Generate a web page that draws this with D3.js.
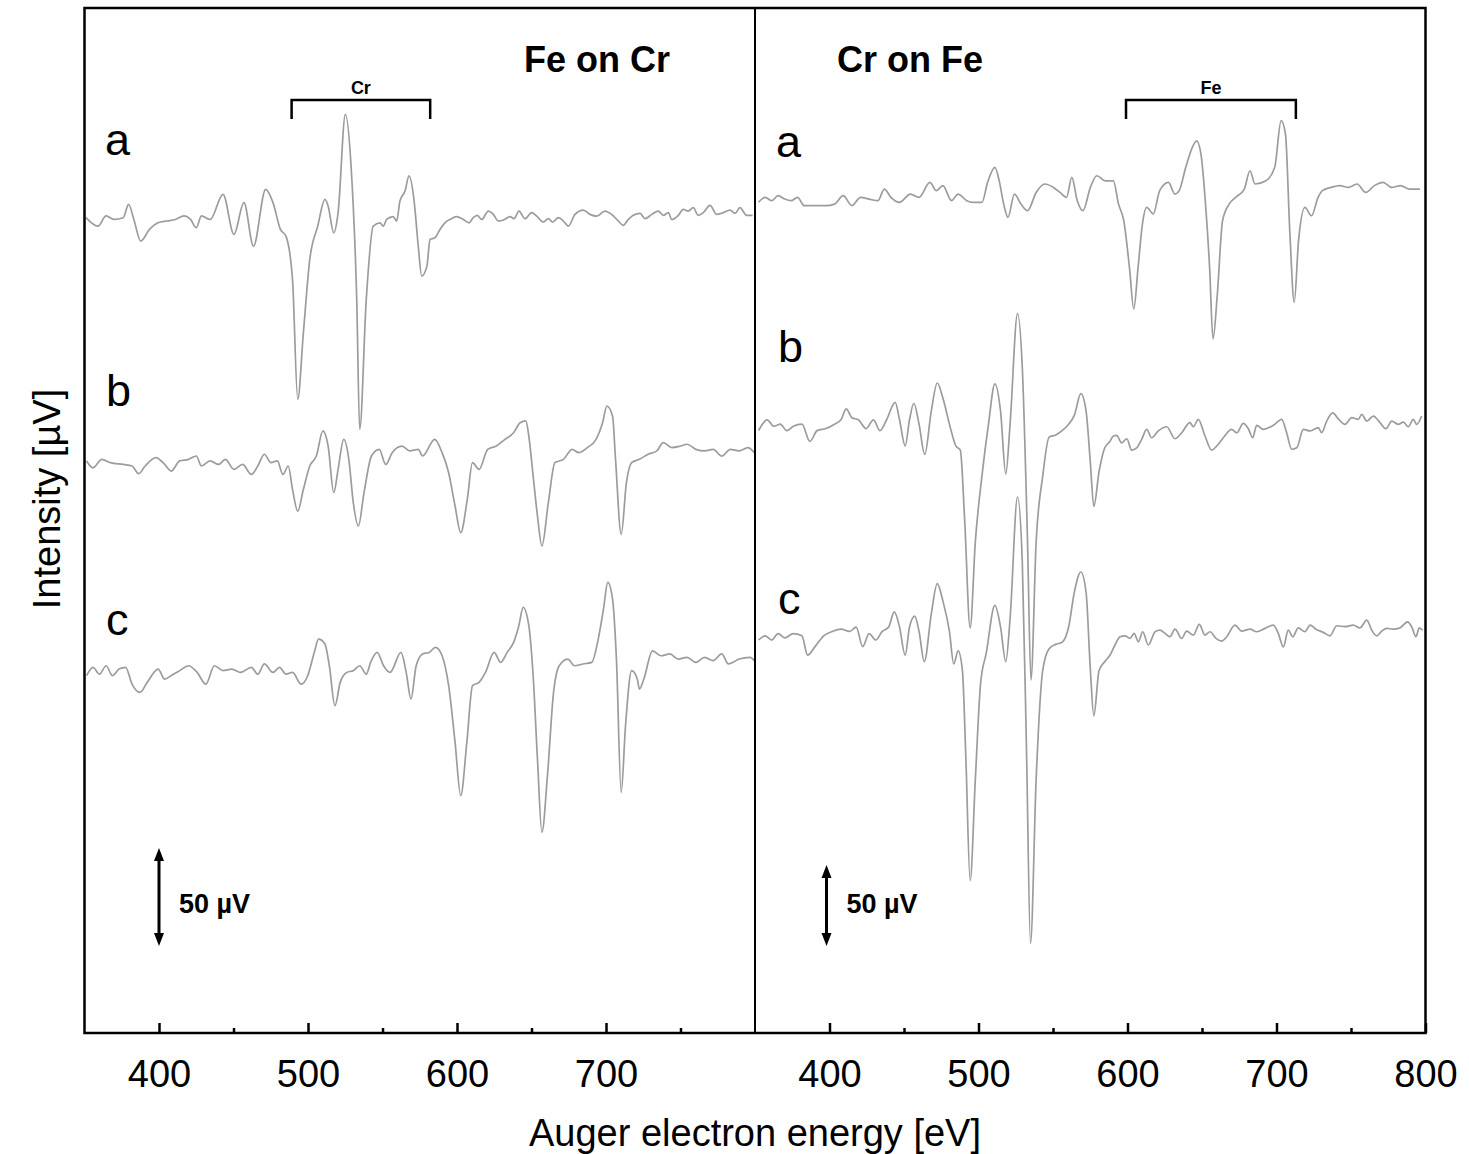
<!DOCTYPE html>
<html>
<head>
<meta charset="utf-8">
<script src="https://cdn.jsdelivr.net/npm/d3@7"></script>
<style>
body { margin: 0; background: #fff; }
text { font-family: Arial, "Liberation Sans", Helvetica, sans-serif; fill: #000; }
</style>
</head>
<body>
<svg id="chart" width="1469" height="1154"></svg>
<script>
// spectra: [energy eV, dN/dE in µV relative to the curve's own baseline]
var feOnCrA = [[351,0],[359,-4.3],[364.5,0.9],[370,-0.9],[376,0],[379.6,6.8],[383.4,-1.7],[387.7,-11.9],[393.6,-6],[399.4,-2.6],[405.2,-1.7],[411,-0.9],[416.8,0.9],[421.2,-0.9],[425,-5.1],[428.5,0.9],[434.3,-0.9],[443,11.9],[450.3,-8.5],[457,7.7],[463.4,-14.5],[471.6,14.5],[476.5,7.7],[481.5,-6],[485.2,-9.4],[489.6,-31.5],[493.1,-92.7],[496.9,-58.7],[501.2,-21.3],[506.5,-4.3],[511.4,9.4],[513.5,6],[517.3,-7.7],[520.2,2.6],[525.1,52.7],[528.9,26.4],[532.7,-41.7],[534.7,-108],[539.1,-41.7],[543.8,-4.3],[548.3,-2.6],[550.5,-4.3],[552.8,-0.9],[557.2,0.5],[559.5,-1.7],[561.7,8.5],[565.1,13.6],[567.8,21.3],[571.1,9.4],[574,-14.5],[576.3,-29.8],[579.8,-24.7],[581.9,-11.1],[585.2,-10.2],[588.6,-6],[591.9,-2.6],[596.4,-0.5],[599.8,0.5],[604.2,-0.9],[608.1,-2.6],[610.9,0],[613.6,1.2],[616.6,-0.9],[621,3.4],[624.4,1.7],[627.7,-1.7],[631.1,-1.2],[635.6,0.5],[638.3,-0.5],[641.6,3.4],[645.6,-0.5],[650.1,2.6],[653.5,0.8],[657.9,-2.2],[661.3,-0.5],[664.2,-2.2],[668,0],[672.5,-2.6],[674.7,-4.3],[679.2,1.7],[684.8,3.9],[689.3,1.7],[693.8,0.8],[699.3,3.4],[703.8,1.7],[708.3,-1.7],[711.6,-3.9],[715,-0.9],[718.3,1.2],[722.8,2.2],[726.2,-0.5],[730.7,1.7],[735.1,3.4],[738.5,1.2],[741.8,2.6],[744.1,-0.9],[748.5,1.2],[751.9,4.2],[755.2,3.4],[758.6,5.1],[761.9,1.2],[765.3,2.6],[769.8,6.3],[774.3,1.7],[778.7,2.6],[783.2,3.9],[786.6,2.2],[789.9,5.1],[794.4,1.2],[798.4,1.2]];

var feOnCrB = [[351.4,0.9],[355.7,-2.6],[361.6,1.7],[367.4,0],[376.1,-0.9],[381.9,-1.7],[386.3,-5.6],[390.7,-1.7],[397.9,2.6],[403.8,-0.9],[408.1,-4.3],[413.9,0.9],[419.8,1.7],[425,3.4],[428.5,-1.7],[434.3,0.9],[440.1,-0.9],[444.5,1.7],[450.3,-3.4],[456.1,-0.9],[462,-6],[466.3,-1.7],[470.7,4.3],[475.1,0],[479.4,0.9],[483.2,-6],[486.7,-1.7],[489.6,-13.6],[493.1,-24.7],[496.9,-13.6],[501.2,-1.7],[505.6,3.4],[510,16.2],[513.5,8.5],[517.3,-15.3],[520.2,-3.4],[524,11.9],[527.4,1.7],[530.4,-20.4],[533.8,-32.3],[537.6,-15.3],[542.6,3.4],[547.8,6.8],[552.2,-0.9],[556.5,5.1],[563,8.5],[568.2,6],[574,6.8],[576.9,3.4],[585,11.9],[590,5.1],[594.4,-5.1],[598.7,-22.1],[602.5,-35.7],[606.9,-18.7],[610.4,0],[614.8,-3.4],[620.6,6.8],[626.4,8.5],[632.2,11.9],[638,15.3],[642.4,20.4],[646.2,21.3],[648.2,13.6],[651.1,-6.8],[654,-27.2],[657,-42.5],[661.3,-20.4],[665.7,0],[671.5,1.7],[677.3,6.8],[681.7,5.1],[687.5,7.7],[693.3,11.9],[697.7,20.4],[700.6,28.9],[704.4,23.8],[706.4,1.7],[710.2,-36.6],[713.7,-10.2],[717.2,0],[722.4,1.7],[728.3,4.3],[734.1,6],[738.4,10.2],[744.3,7.7],[750.1,8.5],[754.4,9.4],[760.3,6.8],[766.1,6],[771.9,6.8],[777.7,3.4],[783.5,6.8],[789.4,6],[795.2,7.7],[799.6,5.1]];

var feOnCrC = [[351.4,-1.7],[355.7,2.6],[360.1,-0.9],[364.5,3.4],[368.8,-1.7],[373.2,1.7],[377.6,2.6],[381.9,-6],[387.2,-10.2],[392.1,-5.1],[399.4,1.7],[403.8,-3.4],[409.6,-0.9],[413.9,0.9],[419.8,3.4],[425.6,0],[431.4,-6],[437.2,3.4],[443,0.9],[448.9,1.7],[454.7,0],[462,2.6],[466.3,-0.9],[470.7,4.3],[476.5,0],[480.9,2.6],[485.2,-0.9],[489.6,0],[495.4,-6],[499.8,-1.7],[504.2,10.2],[507.1,17],[511.4,14.5],[514.3,3.4],[518.1,-17],[521.6,-5.1],[526,0],[530.4,0.9],[534.7,3.4],[539.1,-0.9],[542,5.1],[546.4,10.2],[550.7,3.4],[555.1,0],[562.4,10.2],[565.9,0],[569.1,-13.6],[572.6,3.4],[576.9,9.4],[581.3,10.2],[585.6,12.8],[590,8.5],[594.4,-6.8],[598.7,-35.7],[602.5,-62.9],[606.6,-35.7],[610.4,-6.8],[614.8,-5.1],[619.1,0],[624.9,10.2],[629.3,5.1],[633.7,10.2],[638,15.3],[641.5,23.8],[644.4,33.2],[648.2,23.8],[651.1,-1.7],[654,-44.2],[657,-81.6],[660.7,-52.7],[664.8,-10.2],[668.6,3.4],[674.4,6.8],[678.8,3.4],[684.6,4.3],[690.4,5.1],[694.8,17],[698.3,32.3],[701.2,45.9],[704.4,37.4],[707,6.8],[710.2,-61.2],[713.1,-27.2],[717.2,0.9],[721,-3.4],[722.4,-8.5],[725.4,-3.4],[731.2,11],[737,8.5],[742.8,9.4],[748.6,6.8],[754.4,7.7],[760.3,5.1],[766.1,7.7],[771.9,6],[777.7,9.4],[782.1,4.3],[789.4,6.8],[796.7,7.7],[799.6,6]];

var crOnFeA = [[352.4,-1],[356.8,2.1],[361.2,0],[365.5,3.1],[369.9,1],[374.2,0],[378.6,2.1],[383,-3.1],[390.3,-3.1],[397.5,-3.1],[403.4,-2.1],[409.2,3.1],[415,-3.1],[420.8,2.1],[426.6,1],[432.5,0],[436.8,7.2],[441.2,2.1],[447,-1],[454.3,4.1],[460.1,2.1],[467.4,11.3],[471.7,6.2],[476.1,9.3],[481.9,0],[486.3,4.1],[492.1,0],[496.5,-1],[502.3,-1],[506.1,11.3],[511,20.6],[513.9,12.3],[516.9,-2.1],[519.8,-10.3],[524.1,4.1],[528.5,-2.1],[532.9,-6.2],[538.7,5.1],[544.5,10.3],[550.3,8.2],[554.7,5.1],[559.1,2.1],[562.6,14.4],[566.3,0],[570.1,-6.2],[575.1,8.2],[579.4,15.4],[585.2,12.3],[590.5,12.3],[594,-2.1],[597.5,-12.3],[601.3,-41.2],[604.2,-66.9],[607.1,-41.2],[610,-14.4],[612.9,-4.1],[617.3,-8.2],[621.6,6.2],[627.5,11.3],[631.8,4.1],[634.7,6.2],[639.1,20.6],[643.5,32.9],[646.4,37],[649.3,28.8],[652.2,0],[655.1,-41.2],[657.4,-85.4],[660.3,-57.6],[663.8,-12.3],[668.2,-2.1],[672.6,2.1],[678.4,7.2],[682.2,18.5],[685.6,10.3],[692.9,12.3],[698.8,20.6],[703.1,49.4],[706,41.2],[709,-20.6],[711.9,-62.8],[714.8,-24.7],[719.1,-4.1],[723.5,-9.3],[727.9,2.1],[730.8,6.2],[736.6,8.2],[742.4,9.3],[748.2,8.2],[754.1,10.3],[759.9,5.1],[765.7,9.3],[771.5,11.3],[777.3,8.2],[783.2,9.3],[789,7.2],[796.3,7.2]];

var crOnFeB = [[352.4,0],[358.2,6.7],[362.6,2.7],[367,4],[371.3,0],[375.7,2.7],[381.5,4],[386.8,-6.7],[391.7,0],[397.5,1.3],[403.4,4],[407.7,6.7],[411.2,13.4],[415,8],[419.4,6.7],[424.6,1.3],[429.5,6.7],[433.9,0],[438.3,6.7],[444.1,17.4],[447,6.7],[450.8,-9.4],[453.7,6.7],[456.6,16.9],[460.1,4],[463.9,-14.7],[468.3,12],[472.3,29.4],[476.1,20.1],[480.5,4],[484.8,-9.4],[487.8,-12],[490.7,-54.9],[494.4,-121.8],[497.9,-68.3],[502.3,-28.1],[506.7,4],[511,28.9],[514.8,12],[518.3,-26.8],[521.2,4],[526.2,72.3],[529.4,38.8],[532.9,-68.3],[535.2,-153.9],[538.7,-68.3],[543.1,-28.1],[547.4,-4],[551.8,-2.7],[556.1,0],[560.5,4],[564.3,9.4],[568.7,22.8],[572.2,12],[575.1,-20.1],[577.4,-46.8],[580.9,-25.4],[584.7,-10.7],[588.2,-6.7],[590.5,-3.3],[592.7,-2.9],[596.1,-7.5],[599.5,-5],[602.8,-12],[606.2,-10.6],[609.5,-5.4],[612.9,0.8],[616.2,-4.4],[620.7,-0.2],[626.3,2.4],[631.9,-5],[636.4,-1.3],[641.9,4.9],[644.2,2.4],[647.5,7],[652,-3.3],[656.5,-12],[659.9,-9.5],[664.3,-4.4],[669.9,0.8],[673.3,-1.3],[677.7,4.5],[681.1,1.2],[684,-4.4],[686.7,3.3],[691.1,0.8],[697.9,3.3],[703.5,7],[706.8,-1.3],[710.2,-11.5],[713.6,-10.6],[718,0.8],[722.5,-0.2],[728.1,1.8],[730.3,-1.3],[733.7,5.9],[737.7,11],[741.5,7.3],[746,3.9],[750.5,8],[754.9,7],[757.2,10],[760.6,5.9],[765,9],[769.5,4.9],[773.5,1.2],[777.3,5.9],[781.7,3.9],[785.1,5.3],[788.5,2.4],[791.8,7],[794.1,3.9],[797.4,9]];

var crOnFeC = [[352.4,-1.3],[356.8,1.3],[361.2,-1.3],[365.5,2.7],[369.9,0],[375.7,2.7],[381.5,1.3],[385.3,-10.7],[390.3,-5.4],[396.1,1.3],[401.9,4],[407.7,5.4],[413.5,4],[417.9,6.7],[422.3,-5.4],[426.6,2.7],[431,-1.3],[435.4,4],[439.7,6.7],[443.5,16.1],[447,6.7],[450.8,-10.7],[453.7,6.7],[457.2,13.4],[460.1,4],[463.6,-14.7],[468.3,14.7],[472.3,33.5],[476.1,22.8],[480.5,4],[483.4,-16.1],[486.3,-8],[489.2,-20.1],[491.5,-73.6],[494.4,-149.9],[497.9,-87],[501.4,-28.1],[505.2,-9.4],[511,20.1],[514.8,6.7],[518.3,-14.7],[521.2,12],[526.2,87],[529.4,46.8],[532.3,-73.6],[534.9,-188.7],[538.7,-87],[543.1,-20.1],[547.4,-6.7],[551.8,-4],[556.1,-2.7],[560.5,6.7],[564.3,28.1],[568.7,40.7],[572.2,28.1],[575.1,-20.1],[577.4,-48.2],[580.9,-20.1],[584.7,-14.7],[588.3,-10.6],[591.6,-4.4],[595,0.7],[598.3,1.3],[601.7,-0.3],[604.4,2.8],[607.3,-2.4],[610.2,3.8],[614,-4.4],[618.5,3.8],[621.8,4.8],[625.2,2.8],[628.5,0.7],[631.9,5.4],[636.4,-0.3],[639.7,4.2],[644.2,1.7],[648.2,8.3],[652,1.7],[655.4,3.8],[659.4,-0.3],[663.2,-2],[666.6,0.7],[672.1,7.9],[676.6,4.2],[682.2,5.4],[686.7,3.8],[692.3,5.9],[697.9,7.9],[701.2,2.8],[704.6,-5.5],[707.9,4.8],[710.9,0.7],[714.6,6.2],[719.1,3.8],[722.5,7.9],[726.5,5.4],[731.4,3.4],[735.9,1.3],[740.4,7.5],[746,6.9],[751.5,7.9],[756,6.2],[760.6,11],[763.9,4.8],[767.3,1.3],[770.6,4.2],[774,5.9],[778.4,5.4],[782.9,6.2],[788,9.9],[790.7,6.9],[793.6,0.7],[795.8,6.2],[798.1,4.8]];

// vertical offsets of the stacked curves (µV)
var feOnCrOffsets = [416, 291, 184];
var crOnFeOffsets = [514, 372, 244];
var curveLabels = ["a", "b", "c"];

var xTicksLeft = [400, 500, 600, 700];
var xTicksRight = [400, 500, 600, 700, 800];
var xMinorTicks = [450, 550, 650, 750];

var crBracket = [489, 582];   // Cr LMM region
var feBracket = [599, 713];   // Fe LMM region
var scaleBarUV = 50;

var svg = d3.select("#chart");
svg.append("rect").attr("width", 1469).attr("height", 1154).attr("fill", "#fff");

var top_ = 8, bottom = 1033;

var panels = [
  { x0: 84.5, x1: 755, yMax: 523, curves: [feOnCrA, feOnCrB, feOnCrC], offsets: feOnCrOffsets,
    ticks: xTicksLeft, title: "Fe on Cr", titleX: 524, bracket: crBracket, bracketName: "Cr",
    labelPos: [[105, 155], [106, 406], [106, 635]], barE: 400, barBase: 44.4 },
  { x0: 755, x1: 1425.5, yMax: 633, curves: [crOnFeA, crOnFeB, crOnFeC], offsets: crOnFeOffsets,
    ticks: xTicksRight, title: "Cr on Fe", titleX: 837, bracket: feBracket, bracketName: "Fe",
    labelPos: [[776, 157], [778, 362], [778, 614]], barE: 398, barBase: 53.7 }
];

panels.forEach(function(p) {
  var x = d3.scaleLinear().domain([350, 800]).range([p.x0, p.x1]);
  var y = d3.scaleLinear().domain([0, p.yMax]).range([bottom, top_]);

  var line = d3.line()
    .x(function(d) { return x(d[0]); })
    .curve(d3.curveMonotoneX);

  p.curves.forEach(function(c, i) {
    line.y(function(d) { return y(p.offsets[i] + d[1]); });
    svg.append("path")
      .datum(c)
      .attr("d", line)
      .attr("fill", "none")
      .attr("stroke", "#9c9c9c")
      .attr("stroke-width", 1.7)
      .attr("stroke-linejoin", "round");

    svg.append("text")
      .attr("x", p.labelPos[i][0]).attr("y", p.labelPos[i][1])
      .attr("font-size", 45)
      .text(curveLabels[i]);
  });

  // major and minor ticks, pointing inward
  var ax = svg.append("g")
    .attr("transform", "translate(0," + bottom + ")")
    .call(d3.axisBottom(x).tickValues(p.ticks).tickSize(-10).tickPadding(27).tickFormat(d3.format("d")));
  ax.select(".domain").remove();
  ax.selectAll("line").attr("stroke", "#000").attr("stroke-width", 2.5);
  ax.selectAll("text").attr("font-size", 38).attr("font-family", "Arial, 'Liberation Sans', sans-serif").attr("fill", "#000");

  var mx = svg.append("g")
    .attr("transform", "translate(0," + bottom + ")")
    .call(d3.axisBottom(x).tickValues(xMinorTicks).tickSize(-5).tickFormat(""));
  mx.select(".domain").remove();
  mx.selectAll("line").attr("stroke", "#000").attr("stroke-width", 2.5);

  // panel title
  svg.append("text")
    .attr("x", p.titleX).attr("y", 72)
    .attr("font-size", 36).attr("font-weight", "bold")
    .text(p.title);

  // element bracket
  var bx0 = x(p.bracket[0]), bx1 = x(p.bracket[1]);
  svg.append("path")
    .attr("d", "M" + bx0 + ",119V100H" + bx1 + "V119")
    .attr("fill", "none").attr("stroke", "#000").attr("stroke-width", 2.5);
  svg.append("text")
    .attr("x", (bx0 + bx1) / 2).attr("y", 94)
    .attr("text-anchor", "middle")
    .attr("font-size", 18).attr("font-weight", "bold")
    .text(p.bracketName);

  // 50 µV scale bar
  var bx = x(p.barE), yb = y(p.barBase), yt = y(p.barBase + scaleBarUV);
  svg.append("line")
    .attr("x1", bx).attr("x2", bx).attr("y1", yt + 6).attr("y2", yb - 6)
    .attr("stroke", "#000").attr("stroke-width", 3);
  svg.append("path")
    .attr("d", "M" + bx + "," + yt + "l-5,13h10z")
    .attr("fill", "#000");
  svg.append("path")
    .attr("d", "M" + bx + "," + yb + "l-5,-13h10z")
    .attr("fill", "#000");
  svg.append("text")
    .attr("x", bx + 20).attr("y", 913)
    .attr("font-size", 27).attr("font-weight", "bold")
    .text(scaleBarUV + " \u00b5V");
});

// frame and panel divider
svg.append("rect")
  .attr("x", 84.5).attr("y", top_)
  .attr("width", 1425.5 - 84.5).attr("height", bottom - top_)
  .attr("fill", "none").attr("stroke", "#000").attr("stroke-width", 2.5);
svg.append("line")
  .attr("x1", 755).attr("x2", 755).attr("y1", top_).attr("y2", bottom)
  .attr("stroke", "#000").attr("stroke-width", 2);

svg.append("text")
  .attr("x", 755).attr("y", 1146)
  .attr("text-anchor", "middle")
  .attr("font-size", 38)
  .text("Auger electron energy [eV]");

svg.append("text")
  .attr("transform", "translate(60,499) rotate(-90)")
  .attr("text-anchor", "middle")
  .attr("font-size", 38)
  .text("Intensity [\u00b5V]");
</script>
</body>
</html>
